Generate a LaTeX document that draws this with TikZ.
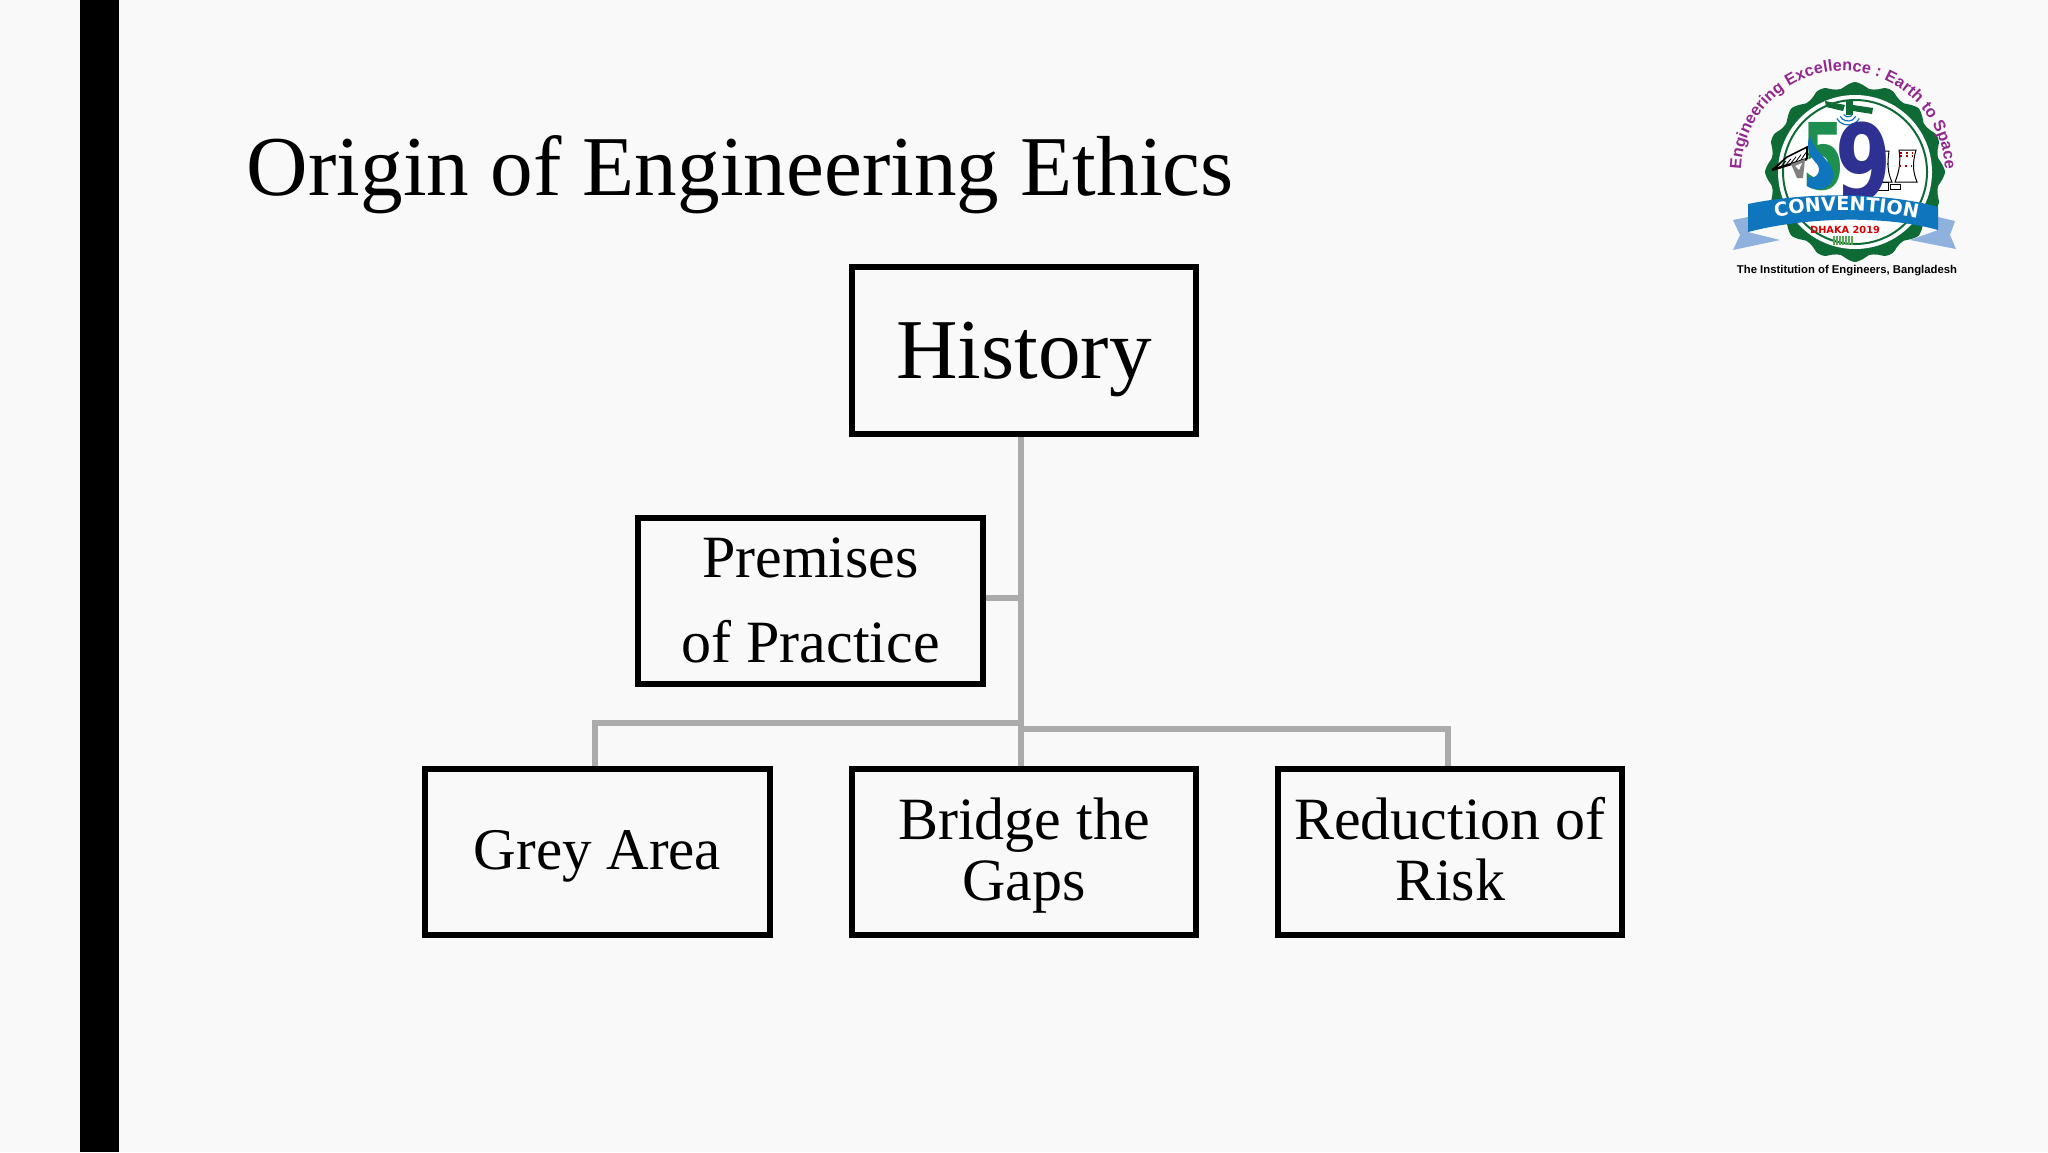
\documentclass[tikz,border=0pt]{standalone}
\usepackage{graphicx}
\usepackage{fontspec}
\setmainfont{Liberation Serif}
\newfontfamily\logofont{Liberation Sans}
\newfontfamily\widefont{DejaVu Sans}
\usetikzlibrary{decorations.text}
\definecolor{pagebg}{HTML}{F9F9F9}
\definecolor{linkgrey}{HTML}{ABABAB}
\definecolor{logogreen}{HTML}{0F6B36}
\definecolor{logoblue}{HTML}{0F75BC}
\definecolor{logolight}{HTML}{8FB1DE}
\definecolor{logoindigo}{HTML}{2E3192}
\definecolor{logopurple}{HTML}{92278F}
\definecolor{fivegreen}{HTML}{1E8F4E}
\tikzset{
  box/.style={draw=black,line width=3.1pt,fill=pagebg,minimum width=172.3pt,minimum height=83.3pt,inner sep=0pt,align=center,font=\fontsize{30}{30.7}\selectfont},
  textdrop/.style={text height=10pt+#1,text depth=10pt},
  link/.style={draw=linkgrey,line width=2.6pt},
  tower/.style={draw=black,line width=0.5pt,fill=white},
  hatch/.style={red!70!black,line width=0.9pt,dotted},
}
\begin{document}
\begin{tikzpicture}[x=0.5pt,y=-0.5pt]
\useasboundingbox (0,0) rectangle (2048,1152);
\fill [pagebg] (0,0) rectangle (2048,1152);
\fill [black] (80,0) rectangle (119,1152);
\node (title) [anchor=base west,inner sep=0pt,font=\fontsize{42.6}{46}\selectfont] at (246.5,195) {Origin of Engineering Ethics};
% boxes
\coordinate (trunktop) at (1021,436);
\coordinate (trunkbot) at (1021,767);
\coordinate (leftdrop) at (595,723);
\coordinate (rightdrop) at (1448,729);
\coordinate (practiceend) at (985,598);
\draw [link] (practiceend) -- (trunktop |- practiceend);
\draw [link] (trunktop) -- (trunkbot);
\draw [link] (trunktop |- leftdrop) -- (leftdrop) -- (leftdrop |- trunkbot);
\draw [link] (trunktop |- rightdrop) -- (rightdrop) -- (rightdrop |- trunkbot);
\node (practice) [box,font=\fontsize{30}{42.5}\selectfont,textdrop=61.5pt] at (810.5,601) {Premises\\of Practice};
\node (history) [box,font=\fontsize{42.6}{46}\selectfont,textdrop=27.5pt] at (1024,350.5) {History};
\node (grey) [box,font=\fontsize{29.5}{30}\selectfont,textdrop=17.7pt] at (597.5,852) {Grey Area};
\node (gaps) [box,textdrop=48.4pt] at (1024,852) {Bridge the\\Gaps};
\node (risk) [box,textdrop=48.4pt] at (1450,852) {Reduction of\\Risk};
% logo, y up from the centre of the seal
\begin{scope}[shift={(1855,172)},x=0.5pt,y=0.5pt]
\fill [logogreen] plot [smooth cycle,domain=0:355,samples=72] (\x:{87+3*cos(16*\x)});
\fill [white] (0,0) circle (77);
\draw [logogreen,line width=1pt] (0,0) circle (72);
% satellite
\fill [logogreen] (-30,71) -- (-10,67) -- (-12,61) -- (-29,65) -- cycle;
\fill [logogreen] (-9,72) -- (-2,72) -- (-2,57) -- (-9,57) -- cycle;
\fill [logogreen] (-2,67) -- (18,64) -- (17,58) -- (-2,61) -- cycle;
\foreach \r in {5,9,13} \draw [logoblue,line width=0.6pt] (-7,60) ++(-150:\r) arc (-150:-30:\r);
% bridge
\draw [black,line width=1.2pt] (-83,2) -- (-48,13);
\draw [black,line width=0.8pt] (-83,2) -- (-68,15) -- (-48,25) -- (-48,13);
\foreach \d in {0,5,...,30} \draw [black,line width=0.4pt] (-80+\d,{3+0.31*\d}) -- (-74+\d,{9+0.42*\d});
\fill [gray] (-64,8) -- (-50,13) -- (-52,-6) -- (-58,-6) -- cycle;
\fill [white] (-60,6) -- (-53,9) -- (-56,2) -- cycle;
% power station
\draw [tower] (27,21) -- (34,21) .. controls (32,8) and (33,-2) .. (37,-10) -- (18,-10) .. controls (25,0) and (27,10) .. (27,21) -- cycle;
\draw [tower] (44,22) -- (61,22) .. controls (57,8) and (58,0) .. (62,-10) -- (40,-10) .. controls (44,0) and (46,10) .. (44,22) -- cycle;
\draw [hatch] (28,18) -- (33,18);
\draw [hatch] (26,8) -- (33,8);
\draw [hatch] (45,19) -- (60,19);
\draw [hatch] (45,16) -- (60,16);
\draw [hatch] (44,6) -- (58,6);
\draw [tower] (22,-10) rectangle (33,-18);
\draw [tower] (35,-12) rectangle (45,-17);
% the figures
\node (five) [inner sep=0pt,text=fivegreen,font=\widefont\bfseries\fontsize{46}{46}\selectfont] at (-31,15) {\scalebox{0.66}[1]{5}};
\fill [logoblue] (-45,37) .. controls (-50,25) and (-45,15) .. (-38,8) .. controls (-34,3) and (-36,-8) .. (-48,-5) -- (-48,-14) .. controls (-35,-22) and (-20,-15) .. (-22,0) .. controls (-24,12) and (-42,20) .. (-45,37) -- cycle;
\node (nine) [inner sep=0pt,text=logoindigo,font=\widefont\bfseries\fontsize{53}{53}\selectfont] at (8,10) {\scalebox{0.76}[1]{9}};
% ribbon
\fill [logolight] (-122,-48) -- (-107,-45) -- (-107,-60) -- (-75,-68) -- (-122,-78) -- (-115,-63) -- cycle;
\fill [logolight] (100,-49) -- (83,-45) -- (83,-58) -- (55,-68) -- (101,-77) -- (95,-63) -- cycle;
\fill [logoblue] (-107,-32) .. controls (-50,-20) and (30,-20) .. (83,-35) -- (83,-58) .. controls (30,-43) and (-50,-45) .. (-107,-60) -- cycle;
\path [postaction={decorate,decoration={text along path,text align=center,text={|\widefont\bfseries\fontsize{9.6}{10}\selectfont\color{white}|CONVENTION}}}] (-82,-46) .. controls (-35,-36) and (15,-36) .. (65,-47);
\node (dhaka) [inner sep=0pt,text=red!85!black,font=\widefont\bfseries\fontsize{4.9}{5}\selectfont] at (-10,-58) {DHAKA 2019};
\foreach \d in {-22,-19,...,-4} \fill [gray!70!green] (\d,-64) rectangle +(1.6,-9);
% outer lettering
\path [postaction={decorate,decoration={text along path,text align=fit to path,text={|\logofont\bfseries\fontsize{8.1}{9}\selectfont\color{logopurple}|Engineering Excellence : Earth to Space}}}] (-12,-1) ++(178:102) arc (178:2:102);
\node (institution) [inner sep=0pt,font=\logofont\bfseries\fontsize{5.66}{6}\selectfont] at (-8,-99) {The Institution of Engineers, Bangladesh};
\end{scope}
\end{tikzpicture}
\end{document}
